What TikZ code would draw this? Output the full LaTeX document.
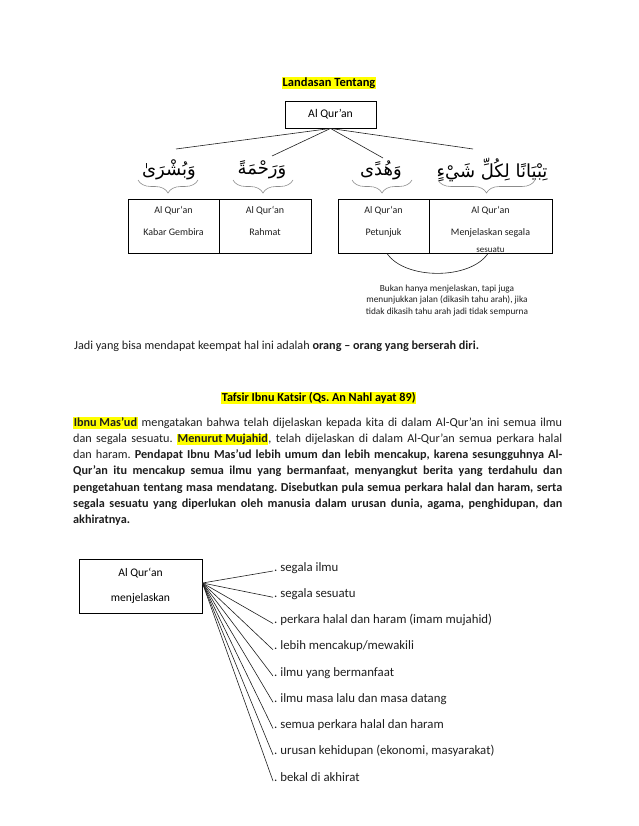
\documentclass[tikz,border=0pt]{standalone}
\usepackage{fontspec}
\setmainfont{Carlito}
\newfontfamily\arabicfont[Script=Arabic]{DejaVu Sans}
\TeXXeTstate=1
\usetikzlibrary{positioning,calc,decorations.pathreplacing}
\definecolor{hilite}{HTML}{FFFF00}
\definecolor{ink}{HTML}{1E1E1E}
\definecolor{brc}{HTML}{8C8C8C}
\newcommand{\hl}[1]{{\setlength{\fboxsep}{0.6pt}\colorbox{hilite}{\vphantom{Ag}#1}}}
\frenchspacing

\begin{document}
\begin{tikzpicture}[x=1pt, y=-1pt,
  box/.style={draw=black, line width=0.9pt, inner sep=0pt},
  celltxt/.style={font=\fontsize{10}{11}\selectfont, text=ink},
  notetxt/.style={font=\fontsize{9.3}{11.5}\selectfont, text=ink, align=center},
  arab/.style={font=\arabicfont\fontsize{18}{20}\selectfont, text=black},
  spoke/.style={draw=ink, line width=0.6pt},
  curly/.style={draw=brc, line width=0.6pt, decorate,
    decoration={brace, mirror, amplitude=13pt}},
  item/.style={font=\fontsize{12.8}{14}\selectfont, text=ink, anchor=base west,
    inner xsep=1pt, inner ysep=0pt}]
\useasboundingbox (0,0) rectangle (638,826);

% landasan
\node[font=\fontsize{12.5}{14}\selectfont\bfseries] (ttl) at (329,83) {\hl{Landasan Tentang}};
\node[box, minimum width=91pt, minimum height=27pt,
      font=\fontsize{11.7}{13}\selectfont] (qa) at (330.5,114.5) {Al Qur’an};

\node[arab] (busyra) at (169,170) {\beginR وَبُشْرَىٰ\endR};
\node[arab] (rahmah) at (262,170) {\beginR وَرَحْمَةً\endR};
\node[arab] (huda)   at (381,170) {\beginR وَهُدًى\endR};
\node[arab] (tibyan) at (492,170) {\beginR تِبْيَانًا لِكُلِّ شَيْءٍ\endR};

\coordinate (t1) at (176,149);
\coordinate (t2) at (272,156);
\coordinate (t3) at (383,158);
\coordinate (t4) at (473,149);
\foreach \tgt in {t1,t2,t3,t4}
  \draw[spoke] (qa.south) -- (\tgt);

\draw[curly] (138,180) -- (198,180);
\draw[curly] (233,180) -- (293,180);
\draw[curly] (352,180) -- (412,180);
\draw[curly] (438,180) -- (535,180);

% cells
\foreach \nm/\cx/\w/\txt in {kabar/173.5/91/Kabar Gembira, rahmat/265/92/Rahmat,
    petunjuk/383.5/91/Petunjuk, jelas/490.5/123/Menjelaskan segala}{
  \node[box, minimum width=\w pt, minimum height=54pt] (\nm) at (\cx,226) {};
  \node[celltxt] at ($(\nm.north)+(0,12)$) {Al Qur‘an};
  \node[celltxt] at ($(\nm.north)+(0,34)$) {\txt};}
\begin{scope}
  \clip (jelas.south west) rectangle (jelas.north east);
  \node[celltxt, anchor=base, font=\fontsize{9}{10}\selectfont] (sesu) at (490.5,252) {sesuatu};
\end{scope}
\draw[line width=0.9pt] (jelas.south west) -- (jelas.south east);

\coordinate (c1) at ($(petunjuk.south)+(3.5,0)$);
\coordinate (c2) at ($(jelas.south)+(-2.5,0)$);
\draw[spoke] (c1) .. controls (405,280) and (470,280) .. (c2);
\node[notetxt] (note) at (447,300.5) {Bukan hanya menjelaskan, tapi juga\\
  menunjukkan jalan (dikasih tahu arah), jika\\tidak dikasih tahu arah jadi tidak sempurna};

\node[anchor=base west, inner sep=0pt, text=ink, font=\fontsize{12.2}{14}\selectfont] (jadi) at (74,349)
  {Jadi yang bisa mendapat keempat hal ini adalah \textbf{orang – orang yang berserah diri.}};

% tafsir
\node[font=\fontsize{12.2}{14}\selectfont\bfseries] (tfs) at (318.7,398)
  {\hl{Tafsir Ibnu Katsir (Qs. An Nahl ayat 89)}};
\node[anchor=north west, inner sep=0pt, text width=489pt, align=justify, text=ink,
      font=\fontsize{12.2}{16.1}\selectfont] (para) at (73,417)
  {\hbadness=10000 \textbf{\hl{Ibnu Mas'ud}} mengatakan bahwa telah dijelaskan kepada kita di dalam Al-Qur'an ini semua ilmu\linebreak
   dan segala sesuatu. \textbf{\hl{Menurut Mujahid}}, telah dijelaskan di dalam Al-Qur'an semua perkara halal\linebreak
   dan haram. \textbf{Pendapat Ibnu Mas'ud lebih umum dan lebih mencakup, karena sesungguhnya Al-\linebreak
   Qur'an itu mencakup semua ilmu yang bermanfaat, menyangkut berita yang terdahulu dan\linebreak
   pengetahuan tentang masa mendatang. Disebutkan pula semua perkara halal dan haram, serta\linebreak
   segala sesuatu yang diperlukan oleh manusia dalam urusan dunia, agama, penghidupan, dan\linebreak
   akhiratnya.}};

% menjelaskan
\node[box, minimum width=123pt, minimum height=54pt, align=center,
      font=\fontsize{11.6}{25.5}\selectfont] (qb) at (140.5,586) {Al Qur‘an\\menjelaskan};
\coordinate (o) at ($(qb.east)+(0,-3)$);
\foreach \lbl [count=\k from 0] in {segala ilmu, segala sesuatu,
    perkara halal dan haram (imam mujahid), lebih mencakup/mewakili,
    ilmu yang bermanfaat, ilmu masa lalu dan masa datang,
    semua perkara halal dan haram, {urusan kehidupan (ekonomi, masyarakat)},
    bekal di akhirat}{
  \node[item] (it\k) at (273,{571+26.25*\k}) {. \lbl};
  \draw[spoke] (o) -- (it\k.base west);}
\end{tikzpicture}
\end{document}
